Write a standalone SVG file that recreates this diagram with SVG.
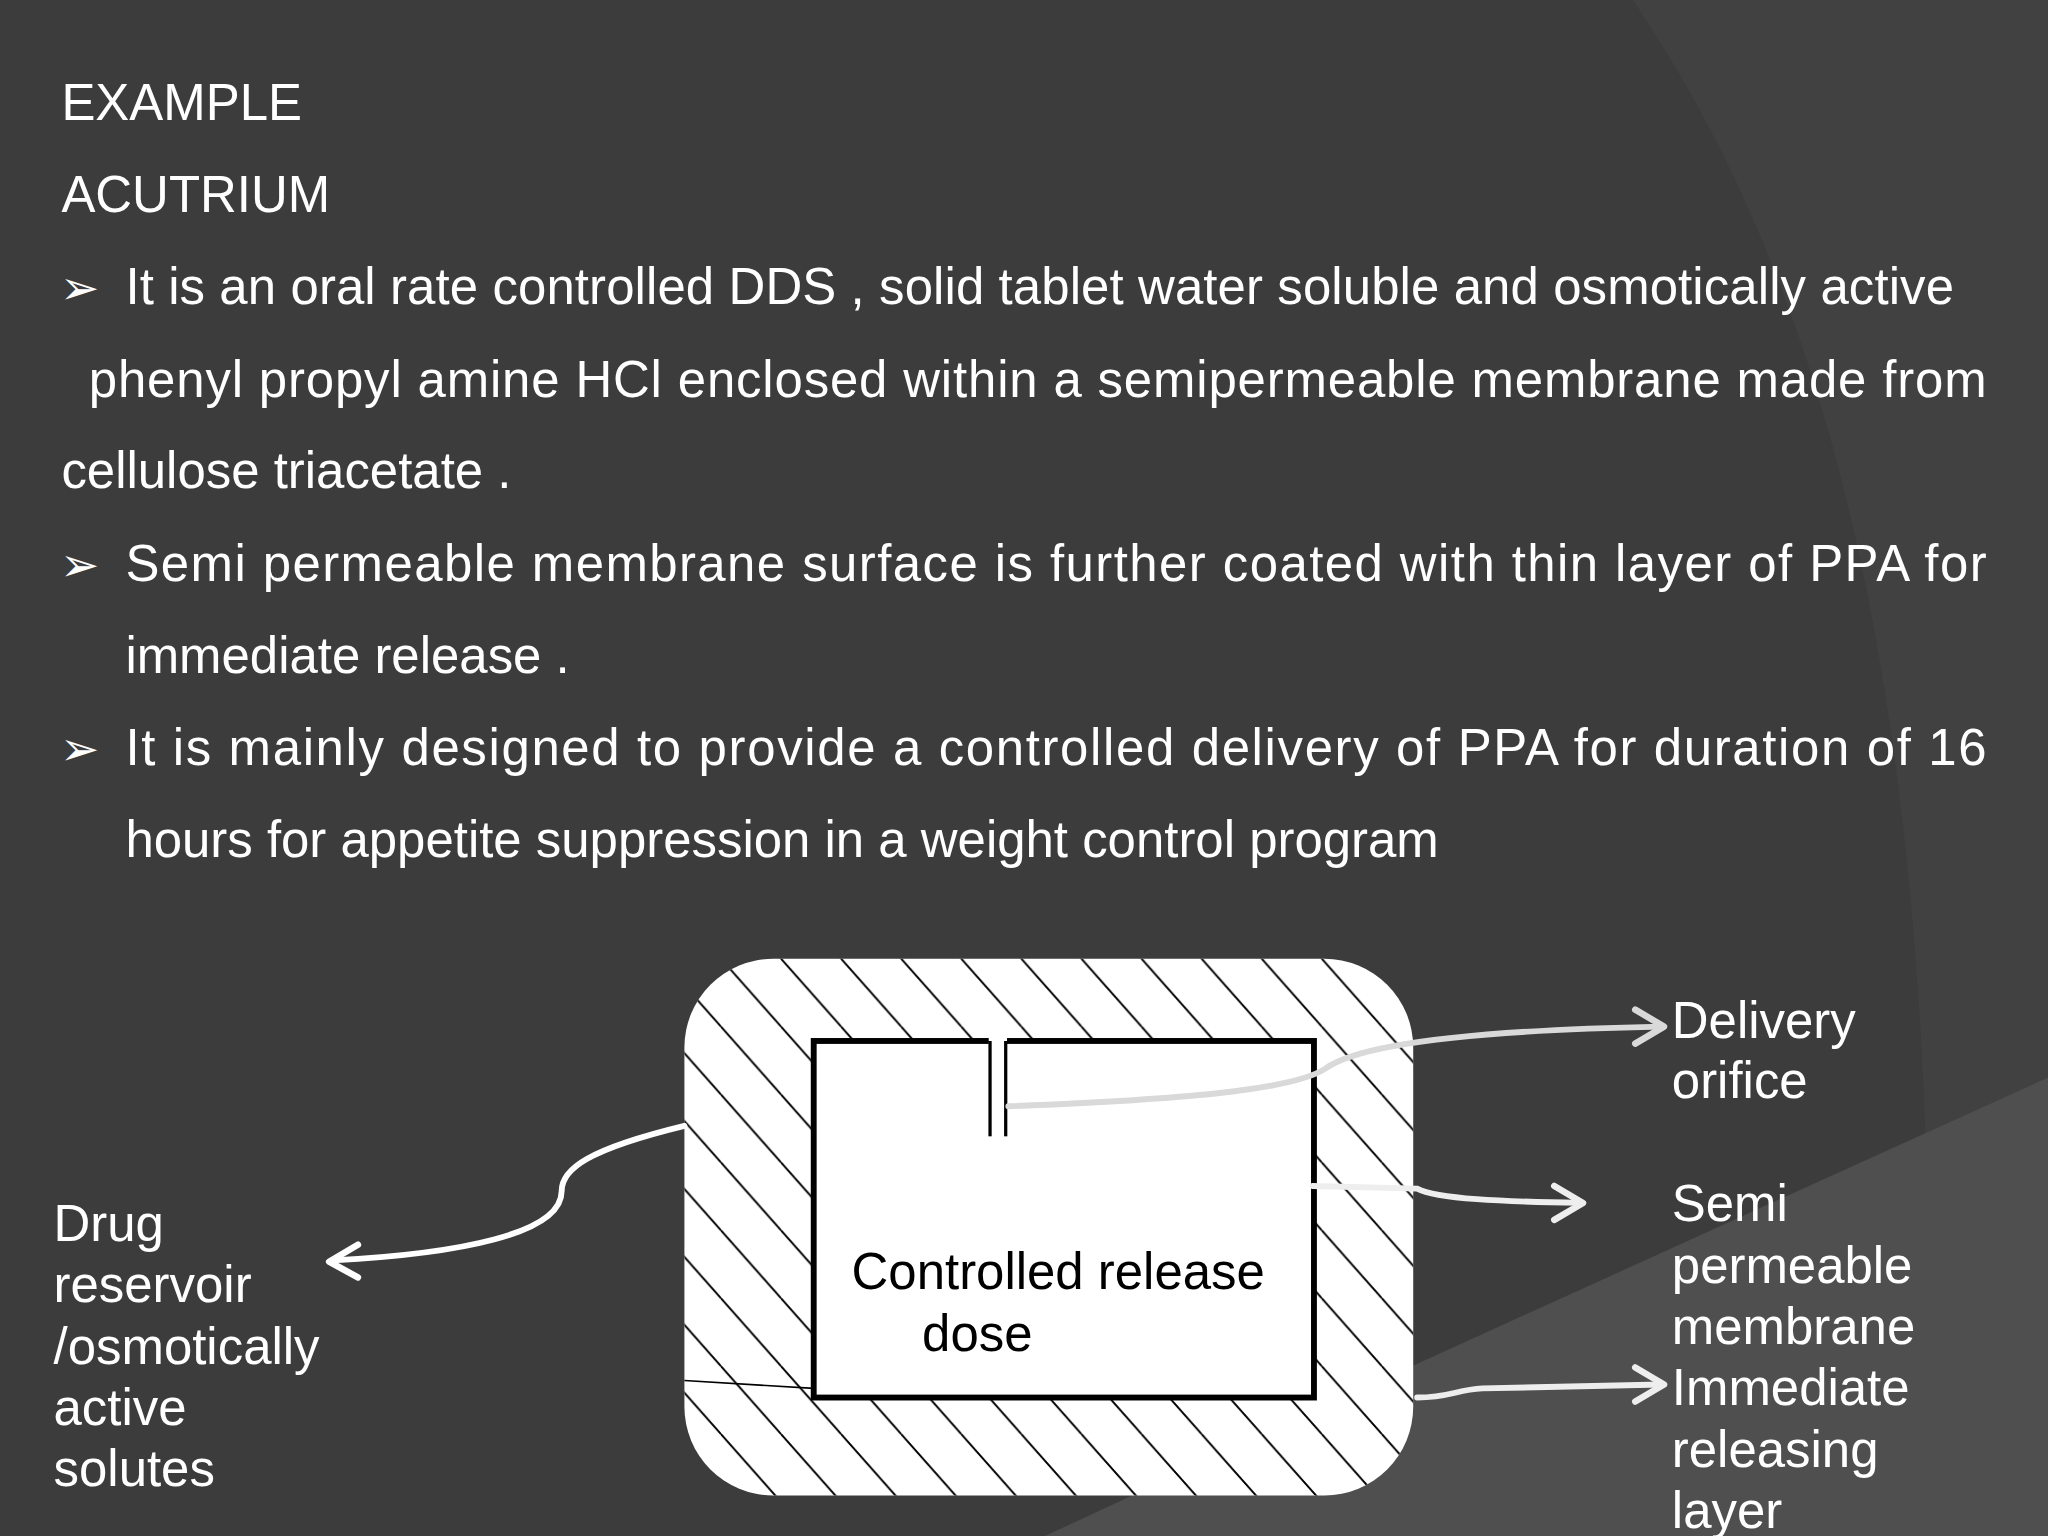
<svg xmlns="http://www.w3.org/2000/svg" width="2048" height="1536" viewBox="0 0 2048 1536">
<defs>
<style>
.t{font-family:"Liberation Sans",Arial,sans-serif;font-size:39px;fill:#ffffff}
.b{font-family:"DejaVu Sans",sans-serif;font-size:36px;fill:#ffffff}
.k{font-family:"Liberation Sans",Arial,sans-serif;font-size:39px;fill:#000000}
.c{fill:none;stroke-width:4.5;stroke-linecap:round}
.h{fill:none;stroke-width:5;stroke-linecap:round;stroke-linejoin:round}
</style>
<pattern id="hatch" patternUnits="userSpaceOnUse" width="46" height="52" patternTransform="translate(0,734)">
<line x1="-46" y1="0" x2="46" y2="104" stroke="#000" stroke-width="1.2"/>
<line x1="0" y1="0" x2="92" y2="104" stroke="#000" stroke-width="1.2"/>
<line x1="0" y1="-52" x2="92" y2="52" stroke="#000" stroke-width="1.2"/>
<line x1="-46" y1="-52" x2="46" y2="52" stroke="#000" stroke-width="1.2"/>
</pattern>
</defs>
<g transform="scale(1.30612)">
<rect x="0" y="0" width="1568" height="1176" fill="#3c3c3c"/>
<path d="M1250,0 C1420,250 1490,600 1475,1176 L1568,1176 L1568,0 Z" fill="#414141"/>
<path d="M1083,1045 L1568,825 L1568,1176 L800,1176 Z" fill="#4f4f4f"/>

<g id="text">
<text class="t" x="47" y="92">EXAMPLE</text>
<text class="t" x="47" y="162">ACUTRIUM</text>
<text class="b" x="46" y="233">➢</text>
<text class="t" x="96" y="233" textLength="1400" lengthAdjust="spacing">It is an oral rate controlled DDS , solid tablet water soluble and osmotically active</text>
<text class="t" x="68" y="304" textLength="1453" lengthAdjust="spacing">phenyl propyl amine HCl enclosed within a semipermeable membrane made from</text>
<text class="t" x="47" y="374">cellulose triacetate .</text>
<text class="b" x="46" y="445">➢</text>
<text class="t" x="96" y="445" textLength="1425" lengthAdjust="spacing">Semi permeable membrane surface is further coated with thin layer of PPA for</text>
<text class="t" x="96" y="515">immediate release .</text>
<text class="b" x="46" y="586">➢</text>
<text class="t" x="96" y="586" textLength="1425" lengthAdjust="spacing">It is mainly designed to provide a controlled delivery of PPA for duration of 16</text>
<text class="t" x="96" y="656">hours for appetite suppression in a weight control program</text>
</g>

<g id="tablet">
<rect x="524" y="734" width="558" height="411" rx="68" fill="#ffffff"/>
<rect x="524" y="734" width="558" height="411" rx="68" fill="url(#hatch)"/>
<line x1="524" y1="1057" x2="623" y2="1063" stroke="#000" stroke-width="1.2"/>
<rect x="623" y="797" width="383" height="273" fill="#ffffff" stroke="#000" stroke-width="4.5"/>
<rect x="757" y="792" width="14" height="12" fill="#ffffff"/>
<line x1="758" y1="797" x2="758" y2="870" stroke="#000" stroke-width="2.5"/>
<line x1="770" y1="797" x2="770" y2="870" stroke="#000" stroke-width="2.5"/>
<text class="k" x="652" y="987">Controlled release</text>
<text class="k" x="706" y="1034">dose</text>
</g>

<g id="connectors">
<path class="c" stroke="#d9d9d9" d="M772,847 C900,842 990,835 1015,818 C1040,800 1120,789 1272,786"/>
<path class="h" stroke="#d9d9d9" d="M1252,773 L1274,786 L1252,799"/>
<path class="c" stroke="#eeeeee" d="M1005,908 L1085,910 C1100,918 1150,920 1210,921"/>
<path class="h" stroke="#eeeeee" d="M1190,908 L1212,921 L1190,934"/>
<path class="c" stroke="#eeeeee" d="M1085,1070 C1110,1070 1115,1064 1135,1063 L1272,1060"/>
<path class="h" stroke="#eeeeee" d="M1252,1047 L1274,1060 L1252,1073"/>
<path class="c" stroke="#ffffff" d="M524,862 C450,880 430,895 430,912 C430,945 350,960 255,965"/>
<path class="h" stroke="#ffffff" d="M274,953 L252,966 L274,978"/>
</g>

<g id="labels">
<text class="t" x="1280" y="795">Delivery</text>
<text class="t" x="1280" y="841">orifice</text>
<text class="t" x="1280" y="935">Semi</text>
<text class="t" x="1280" y="982">permeable</text>
<text class="t" x="1280" y="1029">membrane</text>
<text class="t" x="1280" y="1076">Immediate</text>
<text class="t" x="1280" y="1123">releasing</text>
<text class="t" x="1280" y="1170">layer</text>
<text class="t" x="41" y="950">Drug</text>
<text class="t" x="41" y="997">reservoir</text>
<text class="t" x="41" y="1044">/osmotically</text>
<text class="t" x="41" y="1091">active</text>
<text class="t" x="41" y="1138">solutes</text>
</g>
</g>
</svg>
